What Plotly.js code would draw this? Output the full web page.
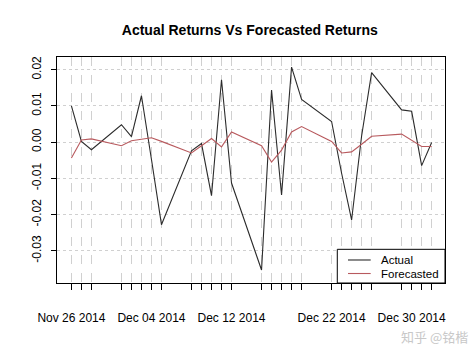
<!DOCTYPE html>
<html>
<head>
<meta charset="utf-8">
<script src="https://cdn.plot.ly/plotly-3.0.1.min.js"></script>
<style>html,body{margin:0;padding:0;background:#fff;}#chart{width:474px;height:355px;}</style>
</head>
<body>
<div id="chart"></div>
<script>
const dates = ["2014-11-26","2014-11-27","2014-11-28","2014-12-01","2014-12-02","2014-12-03","2014-12-04","2014-12-05",
  "2014-12-08","2014-12-09","2014-12-10","2014-12-11","2014-12-12","2014-12-15","2014-12-16","2014-12-17","2014-12-18",
  "2014-12-19","2014-12-22","2014-12-23","2014-12-24","2014-12-25","2014-12-26","2014-12-29","2014-12-30","2014-12-31","2015-01-01"];
const actual = [0.0100, 0.0002, -0.0021, 0.0048, 0.0015, 0.0128, -0.0048, -0.0228, -0.0024, -0.0004, -0.0148, 0.0172, -0.0113,
  -0.0353, 0.0144, -0.0146, 0.0207, 0.0118, 0.0057, -0.0086, -0.0215, 0.0017, 0.0192, 0.0089, 0.0085, -0.0065, -0.0001];
const forecasted = [-0.0044, 0.0006, 0.0009, -0.0010, 0.0004, 0.0008, 0.0012, 0.0002, -0.0030, -0.0010, 0.0010, -0.0013, 0.0028,
  -0.0010, -0.0055, -0.0022, 0.0028, 0.0043, 0.0002, -0.0030, -0.0027, -0.0006, 0.0016, 0.0022, 0.0004, -0.0012, -0.0012];
const seriesNames = ["Actual", "Forecasted"];
const seriesColors = ["#2b2b2b", "#b85a5e"];
const xLabels = {"2014-11-26":"Nov 26 2014","2014-12-04":"Dec 04 2014","2014-12-12":"Dec 12 2014","2014-12-22":"Dec 22 2014","2014-12-30":"Dec 30 2014"};
const xTickText = dates.map(d => xLabels[d] || "");
const yTickVals = [-0.03, -0.02, -0.01, 0.00, 0.01, 0.02];
const yTickText = ["-0.03", "-0.02", "-0.01", "0.00", "0.01", "0.02"];

const font = "Liberation Sans, Arial, sans-serif";
const traces = [
  {x: dates, y: actual, type: "scatter", mode: "lines", name: seriesNames[0], line: {color: seriesColors[0], width: 1.1}},
  {x: dates, y: forecasted, type: "scatter", mode: "lines", name: seriesNames[1], line: {color: seriesColors[1], width: 1.1}}
];

// manual legend (R-style box)
const lgX0 = 0.7224, lgY1 = 0.149, lineX0 = 0.750, lineX1 = 0.8085, textX = 0.8325;
const rowY = [0.1018, 0.042];
const shapes = [
  {type: "rect", xref: "paper", yref: "paper", x0: lgX0, x1: 1, y0: 0, y1: lgY1,
   line: {color: "#000", width: 1}, fillcolor: "#ffffff", layer: "above"}
];
const annotations = [];
seriesNames.forEach((n, i) => {
  shapes.push({type: "line", xref: "paper", yref: "paper", x0: lineX0, x1: lineX1, y0: rowY[i], y1: rowY[i],
               line: {color: seriesColors[i], width: 1.1}, layer: "above"});
  annotations.push({text: n, xref: "paper", yref: "paper", x: textX, y: rowY[i], xanchor: "left", yanchor: "middle",
                    showarrow: false, borderpad: 0, font: {family: font, size: 11.5, color: "#000"}});
});
annotations.push({text: "知乎 @铭楷", xref: "paper", yref: "paper", x: 1.065, y: -0.235, xanchor: "right", yanchor: "middle",
     showarrow: false, font: {family: "Noto Sans CJK SC, sans-serif", size: 13, color: "#c8c8c8"}});

const layout = {
  width: 474, height: 355,
  margin: {l: 57, r: 29, t: 57, b: 72},
  paper_bgcolor: "#ffffff", plot_bgcolor: "#ffffff",
  font: {family: font, size: 12, color: "#000"},
  title: {text: "<b>Actual Returns Vs Forecasted Returns</b>", font: {family: font, size: 14, color: "#000"},
          x: 0.527, xanchor: "center", y: 0.915, yanchor: "middle"},
  xaxis: {
    type: "date", range: ["2014-11-24 13:26", "2015-01-02 08:00"],
    tickmode: "array", tickvals: dates, ticktext: xTickText, tickangle: 0,
    ticks: "outside", ticklen: 6, tickcolor: "#000", tickwidth: 1,
    ticklabelstandoff: 18,
    showgrid: true, gridcolor: "#d0d0d0", griddash: "dash", gridwidth: 1,
    showline: true, linecolor: "#000", linewidth: 1, mirror: true,
    zeroline: false, tickfont: {family: font, size: 12, color: "#000"}
  },
  yaxis: {
    range: [-0.0389, 0.0235],
    tickmode: "array", tickvals: yTickVals, ticktext: yTickText, tickangle: -90,
    ticks: "outside", ticklen: 5, tickcolor: "#000", tickwidth: 1,
    ticklabelstandoff: 5,
    showgrid: true, gridcolor: "#d0d0d0", griddash: "dot", gridwidth: 1,
    showline: true, linecolor: "#000", linewidth: 1, mirror: true,
    zeroline: false, tickfont: {family: font, size: 12, color: "#000"}
  },
  showlegend: false,
  shapes: shapes,
  annotations: annotations
};
Plotly.newPlot("chart", traces, layout, {displayModeBar: false, staticPlot: true});
</script>
</body>
</html>
